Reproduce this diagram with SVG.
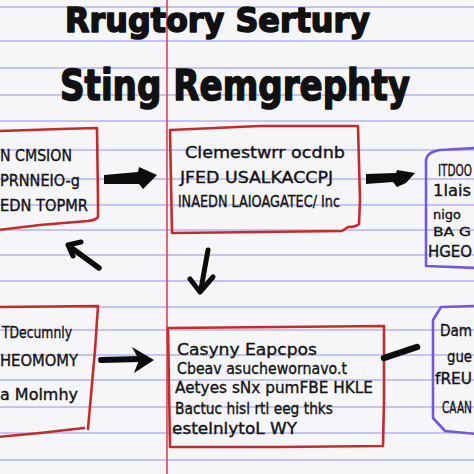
<svg xmlns="http://www.w3.org/2000/svg" width="474" height="474" viewBox="0 0 474 474">
<style>
.paper{fill:#f6f6f8}
.rule{stroke:#b6b2ee;stroke-width:1.3}
.margin{stroke:#d24a4a;stroke-width:1.6}
.h{font-family:"DejaVu Sans",sans-serif;font-weight:bold;fill:#111;stroke:#111;stroke-width:1.6;stroke-linejoin:round}
.t{font-family:"DejaVu Sans",sans-serif;font-size:15px;fill:#141414;stroke:#141414;stroke-width:0.35}
.s{font-size:12px}
.rbox{fill:none;stroke:#c42c2c;stroke-width:2.6;stroke-linejoin:round;stroke-linecap:round}
.pbox{fill:none;stroke:#7658e0;stroke-width:2.6;stroke-linejoin:round;stroke-linecap:round}
.ink{fill:none;stroke:#0c0c0c;stroke-linecap:round;stroke-linejoin:round}
.inkf{fill:#0c0c0c}
</style>
<rect class="paper" x="0" y="0" width="474" height="474"/>
<g id="paper-lines">
<line class="rule" x1="0" y1="7" x2="474" y2="7"/>
<line class="rule" x1="0" y1="41" x2="474" y2="41"/>
<line class="rule" x1="0" y1="68" x2="474" y2="68"/>
<line class="rule" x1="0" y1="95" x2="474" y2="95"/>
<line class="rule" x1="0" y1="121" x2="474" y2="121"/>
<line class="rule" x1="0" y1="150" x2="474" y2="150"/>
<line class="rule" x1="0" y1="179" x2="474" y2="179"/>
<line class="rule" x1="0" y1="205" x2="474" y2="205"/>
<line class="rule" x1="0" y1="230" x2="474" y2="230"/>
<line class="rule" x1="0" y1="255" x2="474" y2="255"/>
<line class="rule" x1="0" y1="281" x2="474" y2="281"/>
<line class="rule" x1="0" y1="307" x2="474" y2="307"/>
<line class="rule" x1="0" y1="330" x2="474" y2="330"/>
<line class="rule" x1="0" y1="355" x2="474" y2="355"/>
<line class="rule" x1="0" y1="380" x2="474" y2="380"/>
<line class="rule" x1="0" y1="407" x2="474" y2="407"/>
<line class="rule" x1="0" y1="433" x2="474" y2="433"/>
<line class="rule" x1="0" y1="460" x2="474" y2="460"/>
<line class="margin" x1="167" y1="0" x2="167" y2="474"/>
</g>
<g id="title">
<text class="h" x="65" y="32" font-size="33" textLength="305" lengthAdjust="spacingAndGlyphs">Rrugtory Sertury</text>
<text class="h" x="60" y="100" font-size="42" textLength="350" lengthAdjust="spacingAndGlyphs">Sting Remgrephty</text>
</g>
<g id="node-a">
<path class="rbox" d="M -2,131 L 60,129 L 97,128 L 98,200 L 98,217 Q 96,220 88,221 L 40,225 L -2,230"/>
<text class="t" x="0" y="161" textLength="72" lengthAdjust="spacingAndGlyphs">N CMSION</text>
<text class="t" x="0" y="186" textLength="80" lengthAdjust="spacingAndGlyphs">PRNNEIO-g</text>
<text class="t" x="0" y="211" textLength="88" lengthAdjust="spacingAndGlyphs">EDN TOPMR</text>
</g>
<g id="node-b">
<path class="rbox" d="M 170,130 L 260,126 L 358,126 L 360,200 L 359,224 Q 356,227 348,227 L 342,231 L 260,232 L 172,233 Z"/>
<text class="t" x="185" y="158" textLength="160" lengthAdjust="spacingAndGlyphs">Clemestwrr ocdnb</text>
<text class="t" x="180" y="183" textLength="153" lengthAdjust="spacingAndGlyphs">JFED USALKACCPJ</text>
<text class="t" x="178" y="207" textLength="162" lengthAdjust="spacingAndGlyphs">lNAEDN LAIOAGATEC/ Inc</text>
</g>
<g id="node-c">
<path class="pbox" d="M 476,148 L 440,150 Q 427,152 426,160 L 426,266 L 476,268"/>
<text class="t" x="438" y="176" textLength="34" lengthAdjust="spacingAndGlyphs">ITDOO</text>
<text class="t" x="433" y="196" textLength="38" lengthAdjust="spacingAndGlyphs">1lais</text>
<text class="t s" x="433" y="219" textLength="28" lengthAdjust="spacingAndGlyphs">nigo</text>
<text class="t s" x="433" y="236" textLength="38" lengthAdjust="spacingAndGlyphs">BA G</text>
<text class="t" x="428" y="257" textLength="44" lengthAdjust="spacingAndGlyphs">HGEO</text>
</g>
<g id="node-d">
<path class="rbox" d="M -2,307 L 98,306 L 95,350 L 88,429 M 84,428 L 40,433 L -2,437"/>
<text class="t" x="2" y="338" textLength="70" lengthAdjust="spacingAndGlyphs">TDecumnly</text>
<text class="t" x="0" y="366" textLength="78" lengthAdjust="spacingAndGlyphs">HEOMOMY</text>
<text class="t" x="0" y="400" textLength="78" lengthAdjust="spacingAndGlyphs">a Molmhy</text>
</g>
<g id="node-e">
<path class="rbox" d="M 168,328 L 280,327 L 384,326 L 384,400 L 383,446 L 280,447 L 170,447 Z"/>
<text class="t" x="177" y="355" textLength="140" lengthAdjust="spacingAndGlyphs">Casyny Eapcpos</text>
<text class="t" x="177" y="374" textLength="170" lengthAdjust="spacingAndGlyphs">Cbeav asuchewornavo.t</text>
<text class="t" x="175" y="393" textLength="198" lengthAdjust="spacingAndGlyphs">Aetyes sNx pumFBE HKLE</text>
<text class="t" x="175" y="414" textLength="158" lengthAdjust="spacingAndGlyphs">Bactuc hisl rtl eeg thks</text>
<text class="t" x="172" y="434" textLength="125" lengthAdjust="spacingAndGlyphs">estelnlytoL WY</text>
</g>
<g id="node-f">
<path class="pbox" d="M 476,306 L 441,307 L 433,320 L 433,418 L 445,431 L 476,434"/>
<text class="t" x="440" y="336" textLength="32" lengthAdjust="spacingAndGlyphs">Dam</text>
<text class="t" x="447" y="362" textLength="25" lengthAdjust="spacingAndGlyphs">gue</text>
<text class="t" x="435" y="384" textLength="37" lengthAdjust="spacingAndGlyphs">fREU</text>
<text class="t" x="442" y="413" textLength="30" lengthAdjust="spacingAndGlyphs">CAAN</text>
</g>
<g id="connectors">
<path class="inkf" d="M 104,175 L 138,172 L 139,167 L 157,175 L 143,189 L 139,184 L 104,184 Z"/>
<path class="inkf" d="M 366,174 L 396,173 L 397,170 L 415,173 L 406,183 L 397,187 L 393,182 L 366,184 Z"/>
<path class="ink" stroke-width="5.5" d="M 99,268 L 73,249"/>
<path class="ink" stroke-width="5" d="M 81,242 L 68,245 L 73,256"/>
<path class="ink" stroke-width="5" d="M 208,250 L 201,289"/>
<path class="ink" stroke-width="5" d="M 190,279 L 200,292 L 213,277"/>
<path class="ink" stroke-width="6" d="M 101,360 L 140,359"/>
<path class="inkf" d="M 132,347 L 154,360 L 134,373 L 139,360 Z"/>
<path class="ink" stroke-width="6.5" d="M 384,358 L 417,347"/>
</g>
</svg>
